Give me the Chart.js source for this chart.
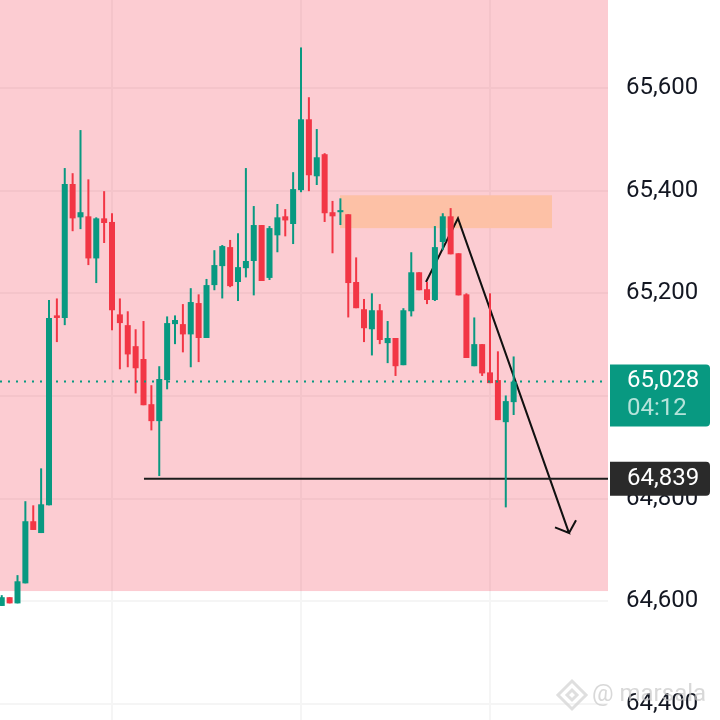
<!DOCTYPE html>
<html>
<head>
<meta charset="utf-8">
<title>Chart</title>
<script src="https://cdn.jsdelivr.net/npm/chart.js@4/dist/chart.umd.js"></script>
<style>
  html, body { margin: 0; padding: 0; background: #fff; }
  #wrap { width: 720px; height: 720px; overflow: hidden; }
</style>
</head>
<body>
<div id="wrap"><canvas id="myChart"></canvas></div>
<script>
const opens  = [64591,64608,64596,64635,64756,64733,64787,65157,65152,65413,65348,65350,65268,65346,65339,65159,65138,65097,65072,64984,64951,65031,65140,65140,65120,65181,65113,65216,65253,65290,65222,65249,65263,65333,65230,65313,65350,65335,65401,65539,65428,65471,65358,65358,65354,65222,65169,65130,65167,65103,65113,65060,65165,65241,65208,65187,65300,65350,65278,65198,65058,65101,65046,65031,64949,64988];
const closes = [64608,64596,64639,64756,64739,64789,65152,65152,65413,65346,65358,65268,65346,65337,65167,65142,65081,65054,64982,64951,65033,65142,65148,65120,65183,65113,65216,65255,65292,65214,65251,65263,65333,65224,65327,65348,65342,65403,65539,65430,65465,65356,65350,65362,65220,65171,65132,65167,65109,65113,65058,65167,65241,65206,65187,65290,65350,65276,65196,65074,65101,65044,65025,64953,64990,65028];
const highs  = [64612,64608,64651,64795,64787,64859,65187,65190,65444,65434,65518,65422,65348,65399,65356,65190,65165,65130,65146,65021,65058,65155,65157,65179,65210,65198,65228,65284,65294,65304,65317,65444,65370,65333,65331,65374,65364,65436,65679,65582,65520,65473,65380,65385,65354,65270,65189,65200,65179,65146,65113,65171,65280,65241,65222,65331,65356,65366,65278,65200,65153,65101,65200,65087,65001,65077];
const lows   = [64591,64596,64596,64635,64739,64733,64787,65105,65138,65321,65325,65255,65220,65298,65128,65052,65056,65005,64982,64933,64844,65013,65101,65085,65056,65066,65113,65206,65190,65212,65185,65231,65196,65224,65226,65280,65311,65296,65397,65399,65411,65339,65278,65333,65153,65171,65105,65079,65101,65064,65039,65060,65155,65206,65179,65185,65284,65276,65196,65074,65058,65039,65025,64953,64783,64963];

const yTicks = [64400, 64600, 64800, 65000, 65200, 65400, 65600];
const gridCandles = [14, 38, 62];

const lastPrice = 65028;
const lastPriceLabel = "65,028";
const countdownLabel = "04:12";
const levelPrice = 64839;
const levelLabel = "64,839";
const levelStart = 18.06;

const zoneBottom = 64620;
const boxLeft = 42.95, boxRight = 69.87, boxTop = 65391, boxBottom = 65327;

const arrowXs = [53.87, 57.93, 72.03, 70.25, 72.03, 72.92];
const arrowYs = [65222, 65346, 64733, 64744, 64733, 64758];

const green = "#089981";
const red = "#f23645";

const candleColors = opens.map((o, i) => closes[i] >= o ? green : red);

// background zones, drawn under the candles
const zonesPlugin = {
    id: "zones",
    beforeDatasetsDraw(chart) {
        const { ctx, chartArea, scales } = chart;
        ctx.save();
        ctx.fillStyle = "rgba(245,50,75,0.25)";
        ctx.fillRect(chartArea.left, chartArea.top, chartArea.width, scales.y.getPixelForValue(zoneBottom) - chartArea.top);
        ctx.fillStyle = "#fdc1a6";
        const x1 = scales.x.getPixelForValue(boxLeft);
        const x2 = scales.x.getPixelForValue(boxRight);
        const y1 = scales.y.getPixelForValue(boxTop);
        const y2 = scales.y.getPixelForValue(boxBottom);
        ctx.fillRect(x1, y1, x2 - x1, y2 - y1);
        ctx.restore();
    }
};

// price tags on the right axis and the watermark
const tagsPlugin = {
    id: "tags",
    afterDraw(chart) {
        const { ctx, scales } = chart;
        const font = "24px Roboto";
        const textX = 627;
        const lastY = scales.y.getPixelForValue(lastPrice);
        const levelY = scales.y.getPixelForValue(levelPrice);

        ctx.save();
        ctx.textAlign = "left";
        ctx.textBaseline = "middle";
        ctx.font = font;

        ctx.fillStyle = green;
        ctx.beginPath();
        ctx.roundRect(610, lastY - 17, 100, 62, [0, 4, 4, 0]);
        ctx.fill();
        ctx.fillStyle = "#ffffff";
        ctx.fillText(lastPriceLabel, textX, lastY - 1);
        ctx.fillStyle = "#b5e3da";
        ctx.fillText(countdownLabel, textX, lastY + 27);

        ctx.fillStyle = "#2a2a2a";
        ctx.beginPath();
        ctx.roundRect(610, levelY - 17, 100, 34, [0, 4, 4, 0]);
        ctx.fill();
        ctx.fillStyle = "#ffffff";
        ctx.fillText(levelLabel, textX, levelY);

        // binance logo + handle
        ctx.strokeStyle = "rgba(215,215,215,0.8)";
        ctx.lineWidth = 3;
        ctx.beginPath();
        ctx.moveTo(572, 681); ctx.lineTo(586, 695); ctx.lineTo(572, 709); ctx.lineTo(558, 695); ctx.closePath();
        ctx.stroke();
        ctx.beginPath();
        ctx.moveTo(572, 690); ctx.lineTo(577, 695); ctx.lineTo(572, 700); ctx.lineTo(567, 695); ctx.closePath();
        ctx.stroke();
        ctx.fillStyle = "rgba(200,200,200,0.7)";
        ctx.font = "24px Roboto";
        ctx.fillText("@ marsala", 592, 695);
        ctx.restore();
    }
};

new Chart(document.getElementById("myChart"), {
    type: "bar",
    data: {
        datasets: [
            {
                type: "line",
                data: [{ x: -0.222, y: lastPrice }, { x: 76.3, y: lastPrice }],
                borderColor: green,
                borderWidth: 2,
                borderDash: [2, 6],
                pointRadius: 0,
                order: 0
            },
            {
                label: "body",
                data: opens.map((o, i) => ({ x: i, y: [o, closes[i]] })),
                backgroundColor: candleColors,
                barThickness: 6,
                grouped: false,
                inflateAmount: 0,
                order: 1
            },
            {
                label: "wick",
                data: lows.map((l, i) => ({ x: i, y: [l, highs[i]] })),
                backgroundColor: candleColors,
                barThickness: 2,
                grouped: false,
                inflateAmount: 0,
                order: 2
            },
            {
                type: "line",
                data: [{ x: levelStart, y: levelPrice }, { x: 76.98, y: levelPrice }],
                borderColor: "#1c1c1c",
                borderWidth: 2,
                pointRadius: 0,
                order: 3
            },
            {
                type: "line",
                data: arrowXs.map((x, i) => ({ x: x, y: arrowYs[i] })),
                borderColor: "#111111",
                borderWidth: 2,
                pointRadius: 0,
                tension: 0,
                order: 3
            }
        ]
    },
    options: {
        responsive: true,
        maintainAspectRatio: false,
        animation: false,
        layout: { padding: 0 },
        plugins: {
            legend: { display: false },
            tooltip: { enabled: false }
        },
        scales: {
            x: {
                type: "linear",
                min: -0.222,
                max: 76.98,
                offset: false,
                grid: { color: "#f5f5f5", lineWidth: 2, offset: false, drawTicks: false },
                border: { display: false },
                ticks: { display: false },
                afterBuildTicks(scale) {
                    scale.ticks = gridCandles.map(v => ({ value: v }));
                },
                afterFit(scale) {
                    scale.height = 0;
                    scale.paddingLeft = 0;
                    scale.paddingRight = 0;
                }
            },
            y: {
                position: "right",
                min: 64368.8,
                max: 65771.4,
                grid: { color: "#f5f5f5", lineWidth: 2, drawTicks: false },
                border: { display: false },
                ticks: {
                    padding: 18,
                    color: "#131722",
                    font: { family: "Roboto", size: 24 },
                    callback: v => v.toLocaleString("en-US")
                },
                afterBuildTicks(scale) {
                    scale.ticks = yTicks.map(v => ({ value: v }));
                },
                afterFit(scale) {
                    scale.width = 112;
                    scale.paddingTop = 0;
                    scale.paddingBottom = 0;
                }
            }
        }
    },
    plugins: [zonesPlugin, tagsPlugin]
});
</script>
</body>
</html>
